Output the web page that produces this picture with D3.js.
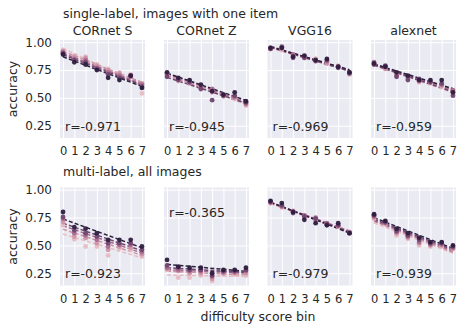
<!DOCTYPE html>
<html>
<head>
<meta charset="utf-8">
<script src="https://cdn.jsdelivr.net/npm/d3@7"></script>
<style>
  html, body { margin: 0; padding: 0; background: #ffffff; }
  svg text { font-family: "DejaVu Sans", sans-serif; fill: #262626; }
</style>
</head>
<body>
<svg id="chart" width="474" height="330"></svg>
<script>
// ---- data ----
const models = ["CORnet S", "CORnet Z", "VGG16", "alexnet"];
const bins = [0, 1, 2, 3, 4, 5, 6, 7];
const yTicks = [0.25, 0.5, 0.75, 1.0];
const rowTitles = ["single-label, images with one item", "multi-label, all images"];
const rSingle = ["r=-0.971", "r=-0.945", "r=-0.969", "r=-0.959"];
const rMulti = ["r=-0.923", "r=-0.365", "r=-0.979", "r=-0.939"];
// series colours, light to dark
const seriesColors = ["#e6bcc3", "#cf93a6", "#a86b8e", "#6f4670", "#2d1e3e"];

// accuracy per difficulty bin, one row per series (light to dark)
const singleCORnetS = [
  [0.93, 0.88, 0.87, 0.80, 0.76, 0.73, 0.71, 0.54],
  [0.92, 0.87, 0.86, 0.79, 0.75, 0.72, 0.70, 0.63],
  [0.91, 0.85, 0.84, 0.77, 0.73, 0.70, 0.69, 0.62],
  [0.90, 0.84, 0.82, 0.76, 0.71, 0.68, 0.70, 0.60],
  [0.89, 0.82, 0.80, 0.75, 0.68, 0.66, 0.70, 0.59]
];
const singleCORnetZ = [
  [0.70, 0.65, 0.64, 0.60, 0.57, 0.51, 0.49, 0.43],
  [0.71, 0.66, 0.63, 0.59, 0.55, 0.52, 0.50, 0.44],
  [0.72, 0.67, 0.65, 0.61, 0.58, 0.53, 0.51, 0.45],
  [0.69, 0.66, 0.64, 0.58, 0.48, 0.52, 0.52, 0.46],
  [0.73, 0.68, 0.66, 0.62, 0.56, 0.53, 0.55, 0.47]
];
const singleVGG16 = [
  [0.94, 0.93, 0.88, 0.87, 0.84, 0.82, 0.79, 0.71],
  [0.94, 0.94, 0.87, 0.86, 0.85, 0.81, 0.78, 0.72],
  [0.95, 0.95, 0.89, 0.87, 0.84, 0.83, 0.78, 0.73],
  [0.94, 0.96, 0.86, 0.86, 0.83, 0.84, 0.77, 0.72],
  [0.95, 0.95, 0.87, 0.88, 0.84, 0.85, 0.78, 0.73]
];
const singleAlexnet = [
  [0.80, 0.77, 0.71, 0.67, 0.64, 0.63, 0.60, 0.54],
  [0.81, 0.76, 0.72, 0.68, 0.66, 0.64, 0.61, 0.56],
  [0.82, 0.78, 0.70, 0.69, 0.65, 0.65, 0.62, 0.57],
  [0.80, 0.79, 0.69, 0.66, 0.67, 0.64, 0.63, 0.52],
  [0.81, 0.78, 0.73, 0.70, 0.66, 0.66, 0.66, 0.55]
];
const multiCORnetS = [
  [0.68, 0.555, 0.49, 0.49, 0.41, 0.475, 0.46, 0.40],
  [0.71, 0.58, 0.565, 0.52, 0.46, 0.49, 0.48, 0.42],
  [0.74, 0.61, 0.59, 0.55, 0.49, 0.505, 0.505, 0.44],
  [0.755, 0.635, 0.61, 0.58, 0.52, 0.52, 0.52, 0.46],
  [0.80, 0.665, 0.65, 0.61, 0.55, 0.55, 0.55, 0.49]
];
const multiCORnetZ = [
  [0.28, 0.21, 0.21, 0.23, 0.18, 0.24, 0.24, 0.23],
  [0.29, 0.27, 0.25, 0.25, 0.20, 0.25, 0.25, 0.25],
  [0.30, 0.28, 0.27, 0.27, 0.22, 0.26, 0.26, 0.27],
  [0.32, 0.30, 0.28, 0.28, 0.23, 0.27, 0.27, 0.28],
  [0.37, 0.31, 0.30, 0.30, 0.25, 0.28, 0.28, 0.30]
];
const multiVGG16 = [
  [0.88, 0.84, 0.80, 0.75, 0.73, 0.70, 0.67, 0.61],
  [0.88, 0.85, 0.81, 0.76, 0.72, 0.69, 0.67, 0.61],
  [0.89, 0.85, 0.80, 0.77, 0.75, 0.70, 0.68, 0.62],
  [0.89, 0.86, 0.79, 0.76, 0.74, 0.69, 0.68, 0.61],
  [0.90, 0.88, 0.80, 0.73, 0.70, 0.68, 0.70, 0.61]
];
const multiAlexnet = [
  [0.74, 0.69, 0.59, 0.56, 0.50, 0.49, 0.49, 0.47],
  [0.75, 0.70, 0.61, 0.57, 0.52, 0.50, 0.50, 0.47],
  [0.76, 0.70, 0.62, 0.58, 0.53, 0.51, 0.51, 0.48],
  [0.77, 0.71, 0.63, 0.59, 0.55, 0.52, 0.52, 0.49],
  [0.78, 0.72, 0.65, 0.61, 0.57, 0.53, 0.53, 0.50]
];

const rows = [
  { title: rowTitles[0], panels: [singleCORnetS, singleCORnetZ, singleVGG16, singleAlexnet], r: rSingle, titles: true },
  { title: rowTitles[1], panels: [multiCORnetS, multiCORnetZ, multiVGG16, multiAlexnet], r: rMulti, titles: false }
];

// ---- layout ----
const svg = d3.select("#chart");
const panelW = 85, panelH = 98;
const panelLeft = [60, 164, 267.5, 371];
const rowTop = [40, 187.5];
const rowTitleY = [18, 176];
const rLabelValue = [[0.25, 0.25, 0.25, 0.25], [0.25, 0.8, 0.25, 0.25]];

const x = d3.scaleLinear().domain([-0.27, 7.27]).range([0, panelW]);
const y = d3.scaleLinear().domain([0.14, 1.02]).range([panelH, 0]);

// least-squares trend per series
function fit(vals) {
  const mx = d3.mean(bins), my = d3.mean(vals);
  let sxy = 0, sxx = 0;
  bins.forEach((b, i) => { sxy += (b - mx) * (vals[i] - my); sxx += (b - mx) * (b - mx); });
  const slope = sxy / sxx;
  return b => my + slope * (b - mx);
}

rows.forEach((row, ri) => {
  svg.append("text")
    .attr("x", 63).attr("y", rowTitleY[ri])
    .attr("font-size", 12.5)
    .text(row.title);

  row.panels.forEach((series, pi) => {
    const g = svg.append("g").attr("transform", `translate(${panelLeft[pi]},${rowTop[ri]})`);

    g.append("rect").attr("width", panelW).attr("height", panelH).attr("fill", "#eaeaf2");

    const yAxis = d3.axisLeft(y).tickValues(yTicks).tickSize(-panelW).tickFormat(d3.format(".2f"));
    const ya = g.append("g").call(yAxis);
    ya.select(".domain").remove();
    ya.selectAll(".tick line").attr("stroke", "#ffffff").attr("stroke-width", 1);
    ya.selectAll(".tick text").attr("font-size", 12).attr("fill", "#262626").attr("x", -8)
      .style("display", pi === 0 ? null : "none");

    const xAxis = d3.axisBottom(x).tickValues(bins).tickSize(-panelH).tickFormat(d3.format("d"));
    const xa = g.append("g").attr("transform", `translate(0,${panelH})`).call(xAxis);
    xa.select(".domain").remove();
    xa.selectAll(".tick line").attr("stroke", "#ffffff").attr("stroke-width", 1);
    xa.selectAll(".tick text").attr("font-size", 11.5).attr("fill", "#262626").attr("y", 9);

    if (row.titles) {
      g.append("text").attr("x", panelW / 2).attr("y", -5)
        .attr("text-anchor", "middle").attr("font-size", 12.5).text(models[pi]);
    }

    series.forEach((vals, si) => {
      const f = fit(vals);
      g.append("line")
        .attr("x1", x(0)).attr("y1", y(f(0)))
        .attr("x2", x(7)).attr("y2", y(f(7)))
        .attr("stroke", seriesColors[si]).attr("stroke-width", 1.5)
        .attr("stroke-dasharray", "4,2.2");
    });
    series.forEach((vals, si) => {
      g.selectAll(null).data(vals).join("circle")
        .attr("cx", (d, i) => x(bins[i])).attr("cy", d => y(d))
        .attr("r", 2.4).attr("fill", seriesColors[si]).attr("opacity", 0.95);
    });

    g.append("text")
      .attr("x", 5).attr("y", y(rLabelValue[ri][pi]) + 5)
      .attr("font-size", 12.5).text(row.r[pi]);
  });

  svg.append("text")
    .attr("transform", `translate(17,${rowTop[ri] + panelH / 2}) rotate(-90)`)
    .attr("text-anchor", "middle").attr("font-size", 12.5).text("accuracy");
});

svg.append("text")
  .attr("x", 258).attr("y", 321)
  .attr("text-anchor", "middle").attr("font-size", 12.5).text("difficulty score bin");
</script>
</body>
</html>
